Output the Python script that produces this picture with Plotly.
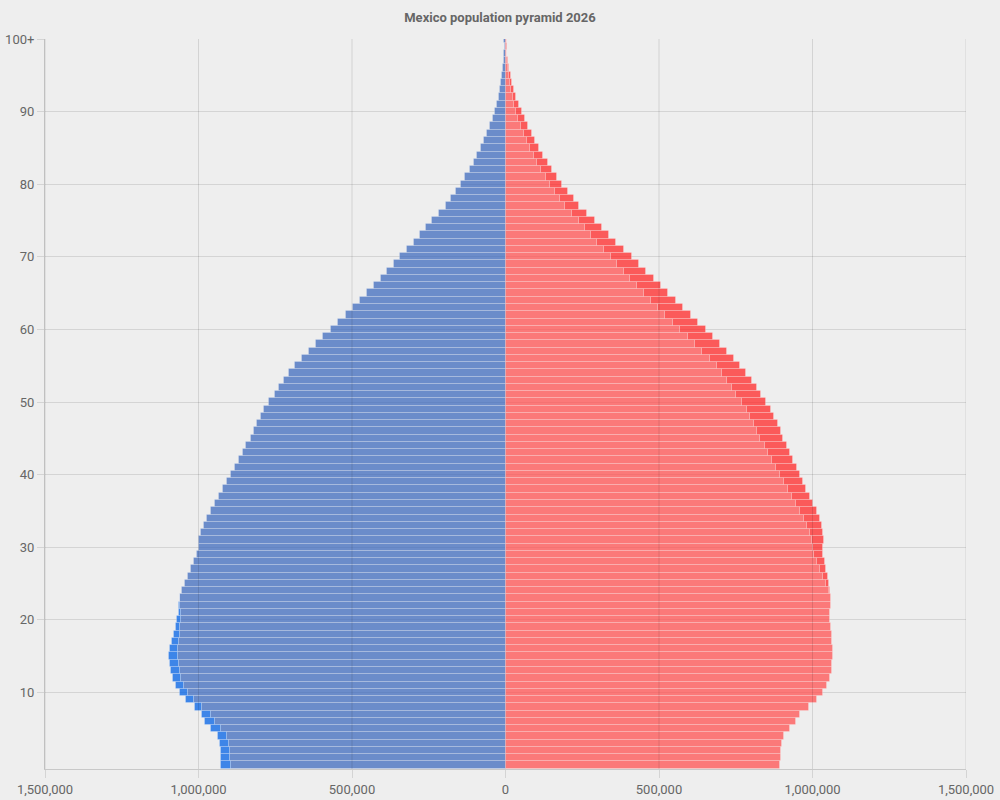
import plotly.graph_objects as go

ages = list(range(101))

male = [
    925100, 926100, 928300, 931600, 937100, 959900, 979500, 988000, 1013000, 1041400,
    1061900, 1074900, 1083700, 1090200, 1092200, 1094500, 1093500, 1087900, 1081400, 1074900,
    1069400, 1065100, 1065100, 1060600, 1048600, 1034800, 1019800, 1005600, 990500, 973600,
    965200, 959900, 950200, 936100, 923200, 905800, 890600, 876600, 862100, 844600,
    831000, 815700, 800300, 784000, 771600, 755700, 744000, 733200, 720800, 711400,
    692800, 670100, 659200, 641900, 627800, 610100, 586300, 559300, 536500, 513700,
    485800, 464700, 436800, 416000, 394500, 373600, 352100, 330300, 310500, 293400,
    277200, 257700, 236800, 221900, 205500, 186700, 169800, 148000, 132300, 120900,
    106500, 98100, 80500, 69800, 64200, 48600, 42100, 34500, 25700, 19900,
    16700, 13300, 10700, 8900, 6200, 4500, 2900, 2200, 1800, 1200,
    1500,
]

female = [
    864200, 865500, 866400, 870700, 878500, 894800, 912000, 928300, 964200, 989200,
    1006500, 1019500, 1029300, 1032600, 1038100, 1039100, 1039100, 1042300, 1042300, 1044000,
    1048900, 1052100, 1055400, 1058600, 1057600, 1054400, 1049800, 1044600, 1040100, 1034800,
    1034800, 1038100, 1034800, 1029300, 1022800, 1014000, 1003200, 991200, 979500, 968400,
    958600, 947900, 937100, 927400, 917600, 905500, 895800, 887000, 875200, 863200,
    849200, 832900, 817600, 802300, 784000, 764500, 742700, 722100, 699300, 676500,
    652400, 627700, 603600, 578800, 554700, 530000, 505900, 482100, 458300, 434200,
    411400, 385300, 360600, 336500, 313700, 290900, 264800, 241000, 221500, 202900,
    184700, 167100, 152100, 136800, 122800, 109800, 96700, 84700, 73900, 62900,
    53100, 43300, 34900, 28300, 21800, 16300, 12100, 8800, 6000, 4000,
    5500,
]

# outline of both sexes shown on each side (muted layer)
overlay = [
    894800, 895800, 898000, 901300, 907800, 927400, 945600, 958600, 989200, 1015300,
    1034800, 1047900, 1056400, 1061900, 1065100, 1067400, 1066100, 1065100, 1061900, 1059600,
    1058600, 1058600, 1059600, 1059600, 1053100, 1044600, 1034800, 1025100, 1015300, 1004200,
    1000000, 999000, 992500, 982700, 973000, 959900, 946900, 933900, 920800, 906500,
    894800, 881800, 868700, 855700, 844600, 830600, 819900, 810100, 798000, 787300,
    771000, 751500, 738400, 722100, 705900, 687300, 664500, 640700, 617900, 595100,
    569100, 546200, 520200, 497400, 474600, 451800, 429000, 406200, 384400, 363800,
    344300, 321500, 298700, 279200, 259600, 238800, 217300, 194500, 176900, 161900,
    145600, 132600, 116300, 103300, 93500, 79200, 69400, 59600, 49800, 41400,
    34900, 28300, 22800, 18600, 14000, 10400, 7500, 5500, 3900, 2600,
    3500,
]

x_ticks = [-1500000, -1000000, -500000, 0, 500000, 1000000, 1500000]
y_ticks = [10, 20, 30, 40, 50, 60, 70, 80, 90, 100]
y_tick_labels = ["10", "20", "30", "40", "50", "60", "70", "80", "90", "100+"]

male_excess = [-(m - o) if m > o else None for m, o in zip(male, overlay)]
female_excess = [(f - o) if f > o else None for f, o in zip(female, overlay)]

BORDER = dict(color="rgba(255,255,255,0.22)", width=1)

fig = go.Figure()
fig.add_bar(y=ages, x=[-o for o in overlay], orientation="h",
            marker=dict(color="rgba(63,107,189,0.75)", line=BORDER), name="Male")
fig.add_bar(y=ages, x=overlay, orientation="h",
            marker=dict(color="rgba(255,82,82,0.75)", line=BORDER), name="Female")
fig.add_bar(y=ages, x=male_excess, base=[-o for o in overlay], orientation="h",
            marker=dict(color="rgba(2,98,230,0.75)", line=BORDER), name="Male excess")
fig.add_bar(y=ages, x=female_excess, base=overlay, orientation="h",
            marker=dict(color="rgba(255,40,40,0.75)", line=BORDER), name="Female excess")

fig.update_traces(hoverinfo="skip", cliponaxis=False)

# vertical grid lines: drawn over the bars (they show through the bars in the original)
for v in x_ticks:
    fig.add_shape(type="line", xref="x", yref="paper", x0=v, x1=v, y0=0, y1=1,
                  line=dict(color="rgba(0,0,0,0.11)", width=1),
                  layer="below" if v == 0 else "above")

fig.update_layout(
    width=1000, height=800,
    barmode="overlay", bargap=0,
    showlegend=False,
    paper_bgcolor="#eeeeee", plot_bgcolor="#eeeeee",
    margin=dict(l=45, r=34, t=39, b=31, autoexpand=False),
    font=dict(family="Roboto", size=13, color="#666666"),
    title=dict(text="Mexico population pyramid 2026", x=0.5, xref="container",
               xanchor="center", y=1 - 17 / 800, yanchor="middle",
               font=dict(family="Roboto", size=13, color="#666666", weight="bold")),
    xaxis=dict(range=[-1500000, 1500000], tickvals=x_ticks,
               ticktext=[f"{abs(v):,}" for v in x_ticks],
               showgrid=False,
               zeroline=False, showline=True, linecolor="#c8c8c8", linewidth=1,
               ticks="outside", ticklen=8, tickcolor="#d4d4d4", automargin=False,
               tickfont=dict(size=13, color="#666666"), fixedrange=True),
    yaxis=dict(range=[-0.55, 100], tickvals=y_ticks, ticktext=y_tick_labels,
               showgrid=True, gridcolor="#d4d4d4", gridwidth=1,
               zeroline=False, showline=True, linecolor="#c0c0c0", linewidth=1,
               ticks="outside", ticklen=7, tickcolor="#d4d4d4", automargin=False,
               tickfont=dict(size=13, color="#666666"), fixedrange=True),
)

fig.write_html("out.html")
